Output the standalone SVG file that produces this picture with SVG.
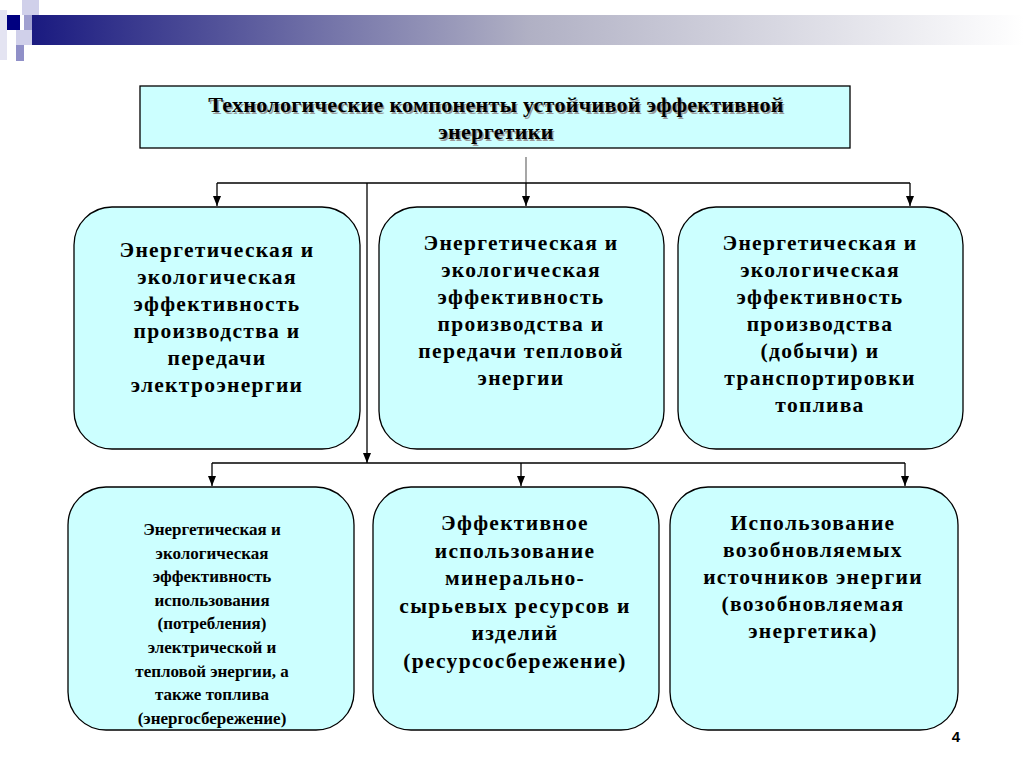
<svg xmlns="http://www.w3.org/2000/svg" width="1024" height="768" viewBox="0 0 1024 768">
<defs>
<linearGradient id="bar" x1="0" x2="1" y1="0" y2="0"><stop offset="0" stop-color="#1a1a80"/><stop offset="0.5" stop-color="#b0b0c4"/><stop offset="1" stop-color="#ffffff"/></linearGradient>
<marker id="ar" markerWidth="12" markerHeight="12" refX="10" refY="5" orient="auto" markerUnits="userSpaceOnUse"><path d="M0,1 L10,5 L0,9 Z" fill="#000"/></marker>
<style>
.box{fill:#ccffff;stroke:#000;stroke-width:1.3}
.t{font-family:'Liberation Serif',serif;font-weight:bold;font-size:21.5px;letter-spacing:1.3px;text-anchor:middle;fill:#000}
.h{font-size:22px;letter-spacing:0.3px}
.s{font-size:17px;letter-spacing:0px}
.c{stroke:#000;stroke-width:1.3;fill:none}
</style>
</defs>
<rect width="1024" height="768" fill="#fff"/>
<rect x="32" y="15" width="992" height="30" fill="url(#bar)"/>
<rect x="22" y="0" width="17" height="15" fill="#d0d0ea"/>
<rect x="0" y="10" width="7" height="50" fill="#e4e4f2"/>
<rect x="7" y="15" width="13" height="15" fill="#000080"/>
<rect x="24" y="15" width="8" height="15" fill="#a0a0d0"/>
<rect x="16" y="30" width="16" height="15" fill="#d0d0ea"/>
<rect x="16" y="45" width="8" height="16" fill="#9090c8"/>
<g id="title">
<rect x="140" y="86" width="710" height="62" fill="#ccffff" stroke="#000" stroke-width="1.3"/>
<text class="t h" x="496" y="112" style="fill:#999" transform="translate(1.5,1.5)">Технологические компоненты устойчивой эффективной</text>
<text class="t h" x="496" y="112">Технологические компоненты устойчивой эффективной</text>
<text class="t h" x="496" y="139" style="fill:#999" transform="translate(1.5,1.5)">энергетики</text>
<text class="t h" x="496" y="139">энергетики</text>
</g>
<g id="connectors">
<line x1="526" y1="157" x2="526" y2="183" stroke="#777" stroke-width="1.3"/>
<line class="c" x1="217" y1="183" x2="910" y2="183"/>
<path class="c" d="M217,183 V206" marker-end="url(#ar)"/>
<path class="c" d="M526,183 V206" marker-end="url(#ar)"/>
<path class="c" d="M910,183 V206" marker-end="url(#ar)"/>
<path class="c" d="M367,183 V463" marker-end="url(#ar)"/>
<line class="c" x1="212" y1="463" x2="905" y2="463"/>
<path class="c" d="M212,463 V486" marker-end="url(#ar)"/>
<path class="c" d="M521,463 V486" marker-end="url(#ar)"/>
<path class="c" d="M905,463 V486" marker-end="url(#ar)"/>
</g>
<g id="n1"><rect class="box" x="74" y="207" width="286" height="242" rx="38"/>
<text class="t" x="217" y="257">Энергетическая и<tspan x="217" dy="27">экологическая</tspan><tspan x="217" dy="27">эффективность</tspan><tspan x="217" dy="27">производства и</tspan><tspan x="217" dy="27">передачи</tspan><tspan x="217" dy="27">электроэнергии</tspan></text></g>
<g id="n2"><rect class="box" x="379" y="207" width="285" height="242" rx="38"/>
<text class="t" x="521" y="250">Энергетическая и<tspan x="521" dy="27">экологическая</tspan><tspan x="521" dy="27">эффективность</tspan><tspan x="521" dy="27">производства и</tspan><tspan x="521" dy="27">передачи тепловой</tspan><tspan x="521" dy="27">энергии</tspan></text></g>
<g id="n3"><rect class="box" x="678" y="207" width="285" height="242" rx="38"/>
<text class="t" x="820" y="250">Энергетическая и<tspan x="820" dy="27">экологическая</tspan><tspan x="820" dy="27">эффективность</tspan><tspan x="820" dy="27">производства</tspan><tspan x="820" dy="27">(добычи) и</tspan><tspan x="820" dy="27">транспортировки</tspan><tspan x="820" dy="27">топлива</tspan></text></g>
<g id="n4"><rect class="box" x="68" y="487" width="286" height="243" rx="38"/>
<text class="t s" x="212" y="535">Энергетическая и<tspan x="212" dy="23.6">экологическая</tspan><tspan x="212" dy="23.6">эффективность</tspan><tspan x="212" dy="23.6">использования</tspan><tspan x="212" dy="23.6">(потребления)</tspan><tspan x="212" dy="23.6">электрической и</tspan><tspan x="212" dy="23.6">тепловой энергии, а</tspan><tspan x="212" dy="23.6">также топлива</tspan><tspan x="212" dy="23.6">(энергосбережение)</tspan></text></g>
<g id="n5"><rect class="box" x="373" y="487" width="286" height="243" rx="38"/>
<text class="t" x="515" y="530">Эффективное<tspan x="515" dy="27.5">использование</tspan><tspan x="515" dy="27.5">минерально-</tspan><tspan x="515" dy="27.5">сырьевых ресурсов и</tspan><tspan x="515" dy="27.5">изделий</tspan><tspan x="515" dy="27.5">(ресурсосбережение)</tspan></text></g>
<g id="n6"><rect class="box" x="670" y="487" width="288" height="243" rx="38"/>
<text class="t" x="813" y="530">Использование<tspan x="813" dy="27">возобновляемых</tspan><tspan x="813" dy="27">источников энергии</tspan><tspan x="813" dy="27">(возобновляемая</tspan><tspan x="813" dy="27">энергетика)</tspan></text></g>
<text x="956" y="742" font-family="Liberation Sans,sans-serif" font-weight="bold" font-size="15" text-anchor="middle">4</text>
</svg>
